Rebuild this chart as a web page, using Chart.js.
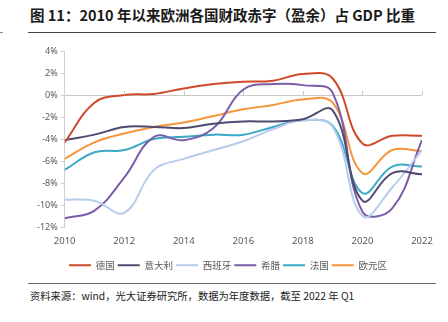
<!DOCTYPE html>
<html>
<head>
<meta charset="utf-8">
<script src="https://cdn.jsdelivr.net/npm/chart.js@4/dist/chart.umd.min.js"></script>
<style>
  body { margin: 0; width: 448px; height: 322px; background: #fff; position: relative; overflow: hidden;
         font-family: "Noto Sans CJK SC", "Noto Sans", sans-serif; }
  #title { position: absolute; left: 30px; top: 4px; font-size: 14.5px; font-weight: bold; color: #1a1a1a; white-space: nowrap; }
  #rule1 { position: absolute; left: 28px; top: 32px; width: 408px; height: 0; border-top: 1.5px solid #444; }
  #mark { position: absolute; left: 0; top: 32px; width: 3px; height: 0; border-top: 1px solid #888; }
  #rule2 { position: absolute; left: 28px; top: 283px; width: 408px; height: 0; border-top: 1.5px solid #666; }
  #source { position: absolute; left: 30px; top: 288px; font-size: 10.3px; color: #222; white-space: nowrap; }
  #box { position: absolute; left: 0; top: 40px; width: 448px; height: 240px; }
</style>
</head>
<body>
<div id="title">图 11：2010 年以来欧洲各国财政赤字（盈余）占 GDP 比重</div>
<div id="rule1"></div>
<div id="mark"></div>
<div id="box"><canvas id="deficit"></canvas></div>
<div id="rule2"></div>
<div id="source">资料来源：wind，光大证券研究所，数据为年度数据，截至 2022 年 Q1</div>
<script>
// 财政赤字（盈余）占 GDP 比重，单位 %
const years = [2010, 2011, 2012, 2013, 2014, 2015, 2016, 2017, 2018, 2019, 2020, 2021, 2022];
const germany = [-4.3, -0.7, 0.0, 0.1, 0.6, 1.0, 1.2, 1.3, 1.9, 1.5, -4.4, -3.7, -3.7];
const italy   = [-4.1, -3.6, -2.9, -2.9, -3.0, -2.6, -2.4, -2.4, -2.2, -1.4, -9.6, -7.1, -7.2];
const spain   = [-9.5, -9.6, -10.7, -6.8, -5.8, -5.0, -4.2, -3.1, -2.3, -2.9, -11.0, -8.4, -5.0];
const greece  = [-11.2, -10.5, -7.5, -3.8, -4.1, -3.0, 0.5, 1.0, 0.9, 0.2, -10.6, -10.3, -4.1];
const france  = [-6.8, -5.2, -5.0, -4.0, -3.8, -3.6, -3.6, -2.9, -2.3, -2.8, -8.9, -6.5, -6.5];
const euro    = [-5.8, -4.3, -3.5, -2.9, -2.5, -1.9, -1.3, -0.9, -0.4, -0.7, -7.1, -5.0, -5.1];
const yTicks = [4, 2, 0, -2, -4, -6, -8, -10, -12];

function series(label, data, color) {
  return {
    label: label, data: data,
    borderColor: color, backgroundColor: color,
    borderWidth: 2, pointRadius: 0, tension: 0.4, fill: false
  };
}

// 零轴上的刻度线
const zeroTicks = {
  id: 'zeroTicks',
  afterDatasetsDraw(chart) {
    const { ctx, scales: { x, y } } = chart;
    const y0 = y.getPixelForValue(0);
    ctx.save();
    ctx.strokeStyle = '#c8c8c8';
    ctx.lineWidth = 1;
    ctx.beginPath();
    years.filter(v => v % 2 === 0 && v > 2010).forEach(v => {
      const px = Math.round(x.getPixelForValue(v)) + 0.5;
      ctx.moveTo(px, y0);
      ctx.lineTo(px, y0 - 4);
    });
    ctx.stroke();
    ctx.restore();
  }
};

new Chart(document.getElementById('deficit'), {
  type: 'line',
  data: {
    labels: years,
    datasets: [
      series('德国', germany, '#cf4a2a'),
      series('意大利', italy, '#4d4b6f'),
      series('西班牙', spain, '#b7cbea'),
      series('希腊', greece, '#7b5ca8'),
      series('法国', france, '#3aa9c6'),
      series('欧元区', euro, '#f7953d')
    ]
  },
  options: {
    responsive: true,
    maintainAspectRatio: false,
    animation: false,
    layout: { padding: { left: 34, right: 26, top: 11, bottom: 0 } },
    scales: {
      x: {
        type: 'linear', min: 2010, max: 2022,
        border: { display: false },
        grid: { display: false },
        afterFit: s => { s.height += 11; },
        ticks: { stepSize: 2, padding: 0, color: '#595959', font: { size: 9.5, family: 'Noto Sans' },
                 callback: v => String(v) }
      },
      y: {
        min: -12, max: 4,
        afterBuildTicks: s => { s.ticks = yTicks.map(v => ({ value: v })); },
        border: { display: true, color: '#d0d0d0' },
        grid: {
          drawOnChartArea: true,
          color: ctx => ctx.tick && ctx.tick.value === 0 ? '#c8c8c8' : 'rgba(0,0,0,0)',
          tickColor: '#d0d0d0', tickLength: 4
        },
        ticks: { padding: 3, color: '#595959', font: { size: 9, family: 'Noto Sans' },
                 callback: v => v + '%' }
      }
    },
    plugins: {
      legend: {
        position: 'bottom',
        labels: {
          usePointStyle: true, pointStyle: 'line', pointStyleWidth: 22,
          boxHeight: 8, padding: 3, color: '#595959',
          font: { size: 9.5, family: 'Noto Sans CJK SC' }
        }
      },
      tooltip: { enabled: false }
    }
  },
  plugins: [zeroTicks]
});
</script>
</body>
</html>
